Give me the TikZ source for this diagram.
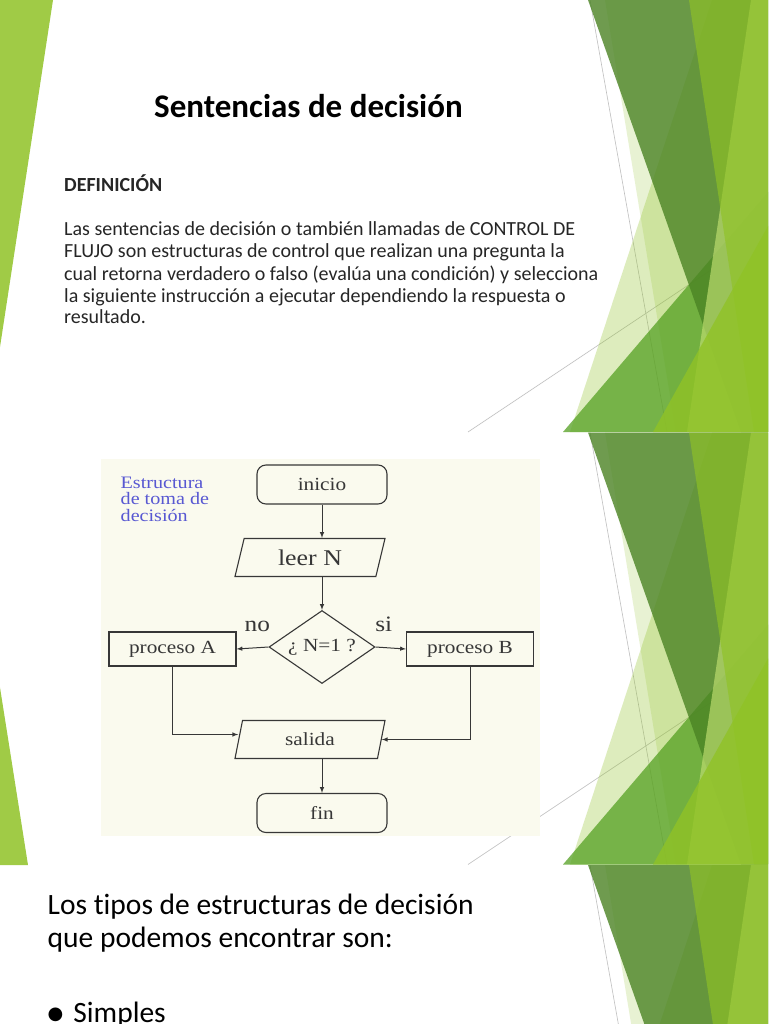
\documentclass[tikz,border=0pt]{standalone}
\usepackage{fontspec}
\setmainfont{Carlito}[Ligatures=NoCommon]
\newfontfamily\chartfont{Liberation Serif}[FakeStretch=1.15]
\newfontfamily\dotfont{DejaVu Sans}
\usetikzlibrary{shapes.geometric, arrows, positioning}
\definecolor{facetgreen}{RGB}{144, 194, 38}
\definecolor{facetdark}{RGB}{84, 160, 33}
\definecolor{facetolive}{RGB}{75, 131, 36}
\definecolor{facetlight}{RGB}{187, 219, 110}
\definecolor{hairline}{RGB}{191, 191, 191}
\definecolor{bodytext}{RGB}{38, 38, 38}
\definecolor{chartbg}{RGB}{250, 250, 238}
\definecolor{chartline}{RGB}{55, 55, 55}
\definecolor{chartblue}{RGB}{88, 88, 210}

\begin{document}
\begin{tikzpicture}[x=1pt, y=-1pt,
    thin line/.style={draw=hairline, line width=0.6pt},
    bodyline/.style={anchor=base west, inner sep=0pt, text=bodytext, font=\fontsize{20}{22}\selectfont},
    bigline/.style={anchor=base west, inner sep=0pt, text=black, font=\fontsize{29.5}{33}\selectfont},
    chartnode/.style={draw=chartline, line width=1.1pt, inner sep=0pt, text=chartline, font=\chartfont\fontsize{18.5}{18.5}\selectfont},
    terminal/.style={chartnode, rectangle, rounded corners=9pt, minimum width=130pt, minimum height=39pt},
    procbox/.style={chartnode, rectangle, minimum width=127pt, minimum height=34pt},
    iobox/.style={chartnode, trapezium, trapezium left angle=60, trapezium right angle=120, trapezium stretches body, minimum width=150pt, minimum height=38pt},
    decision/.style={chartnode, diamond, minimum width=106pt, minimum height=73pt},
    arr/.style={-latex, draw=chartline, line width=1pt}]

    \useasboundingbox (0,0) rectangle (768,1024);
    \clip (0,0) rectangle (768,1024);
    \fill[white] (0,0) rectangle (768,1024);

    % Facet decoration, once per slide
    \foreach \oy in {0, 432.5, 865} {
        \begin{scope}[shift={(0,\oy)}]
            \draw[thin line] (590,0) -- (667,432);
            \draw[thin line] (468,432) -- (768,232);
            \fill[facetgreen, opacity=0.3] (712,0) -- (768,0) -- (768,432) -- (570,432) -- cycle;
            \fill[facetgreen, opacity=0.2] (605,0) -- (768,0) -- (768,432) -- (676,432) -- cycle;
            \fill[facetdark, opacity=0.75] (563,432) -- (768,192) -- (768,432) -- cycle;
            \fill[facetolive, opacity=0.8] (588,0) -- (768,0) -- (768,432) -- (741,432) -- cycle;
            \fill[facetlight, opacity=0.7] (751,0) -- (768,0) -- (768,432) -- (687,432) -- cycle;
            \fill[facetgreen, opacity=0.65] (689,0) -- (768,0) -- (768,432) -- (754,432) -- cycle;
            \fill[facetgreen, opacity=0.8] (653,432) -- (768,226) -- (768,432) -- cycle;
        \end{scope}
    }
    \fill[facetgreen, opacity=0.85] (0,0) -- (53,0) -- (0,347) -- cycle;
    \fill[facetgreen, opacity=0.85] (0,687.5) -- (28,865) -- (0,865) -- cycle;

    % Slide 1: definition
    \node[anchor=base west, inner sep=0pt, font=\bfseries\fontsize{33}{33}\selectfont] (title) at (154,118) {Sentencias de decisión};
    \node[bodyline, font=\bfseries\fontsize{20}{22}\selectfont] (defhead) at (64,192) {DEFINICIÓN};
    \foreach \n/\yy/\txt in {1/236/{Las sentencias de decisión o también llamadas de CONTROL DE},
                            2/258/{FLUJO son estructuras de control que realizan una pregunta la},
                            3/280/{cual retorna verdadero o falso (evalúa una condición) y selecciona},
                            4/302/{la siguiente instrucción a ejecutar dependiendo la respuesta o},
                            5/323/{resultado.}} {
        \node[bodyline] (def\n) at (64,\yy) {\txt};
    }

    % Slide 2: flowchart picture
    \fill[chartbg] (101,459) rectangle (540,836);
    \node[anchor=north west, inner sep=0pt, align=left, text=chartblue, font=\chartfont\fontsize{17.5}{16.7}\selectfont] (caption) at (120.5,476.5) {Estructura\\de toma de\\decisión};

    \node[terminal] (inicio) at (322,484.5) {inicio};
    \node[iobox, font=\chartfont\fontsize{22.5}{22.5}\selectfont] (leer) at (310,557.5) {leer N};
    \node[decision] (cond) at (322,647) {\makebox[0pt]{¿ N=1 ?}};
    \node[procbox] (procA) at (172.5,649) {proceso A};
    \node[procbox] (procB) at (470,649) {proceso B};
    \node[iobox] (salida) at (310,739.5) {salida};
    \node[terminal] (fin) at (322,813) {fin};

    \draw[arr] (inicio) -- (inicio |- leer.north);
    \draw[arr] (cond |- leer.south) -- (cond.north);
    \draw[arr] (cond.west) -- node[pos=0.35, above=15pt, inner sep=0pt, font=\chartfont\fontsize{22}{22}\selectfont, text=chartline] (lblno) {no} (procA.east);
    \draw[arr] (cond.east) -- node[pos=0.27, above=15pt, inner sep=0pt, font=\chartfont\fontsize{22}{22}\selectfont, text=chartline] (lblsi) {si} (procB.west);
    \draw[arr] (procA.south) |- ([yshift=5pt]salida.west);
    \draw[arr] (procB.south) |- (salida.east);
    \draw[arr] (fin |- salida.south) -- (fin.north);

    % Slide 3: kinds of structures
    \node[bigline] (tipos1) at (47.5,914) {Los tipos de estructuras de decisión};
    \node[bigline] (tipos2) at (47.5,947) {que podemos encontrar son:};
    \node[bigline] (simples) at (47.5,1022) {\raisebox{3pt}{\dotfont\fontsize{18}{18}\selectfont ●}\hspace{10pt}Simples};
\end{tikzpicture}
\end{document}
